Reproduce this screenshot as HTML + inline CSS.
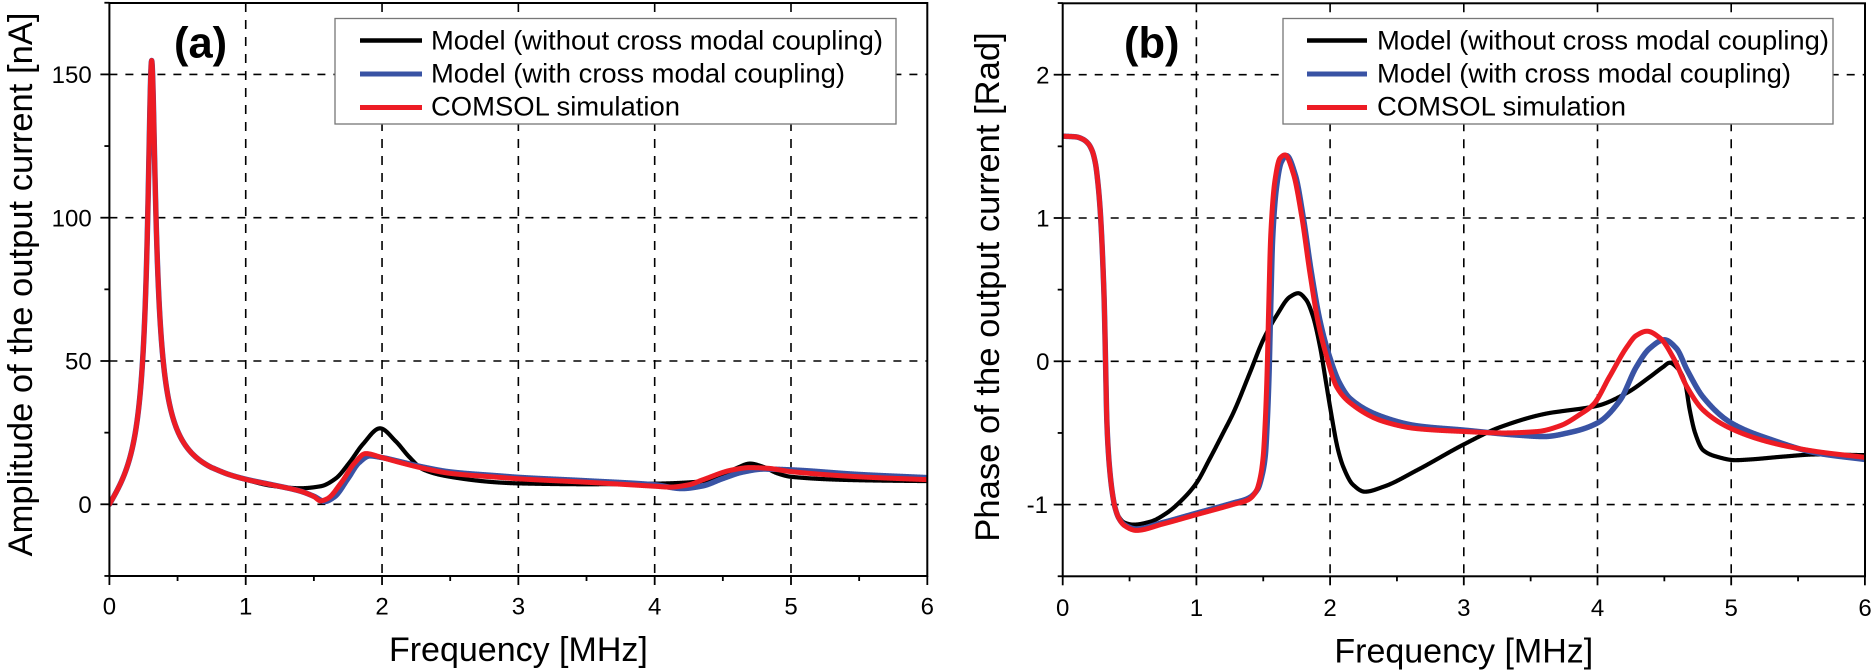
<!DOCTYPE html>
<html><head><meta charset="utf-8">
<style>
html,body{margin:0;padding:0;background:#fff;}
svg{display:block;}
text{font-family:"Liberation Sans",Arial,sans-serif;fill:#000;}
</style></head><body>
<svg id="s" width="1875" height="671" viewBox="0 0 1875 671" xmlns="http://www.w3.org/2000/svg">
<defs>
<clipPath id="ca"><rect x="109.4" y="3" width="817.9" height="573"/></clipPath>
<clipPath id="cb"><rect x="1062.7" y="3" width="802.3" height="573.3"/></clipPath>
</defs>
<rect width="1875" height="671" fill="#fff"/>
<g id="grid" stroke="#000" stroke-width="1.6" fill="none"></g>
<g id="ticks" stroke="#000" stroke-width="1.8" fill="none"></g>
<g id="curvesA" clip-path="url(#ca)" fill="none" stroke-linejoin="round" stroke-linecap="round"></g>
<g id="curvesB" clip-path="url(#cb)" fill="none" stroke-linejoin="round" stroke-linecap="round"></g>
<rect x="109.4" y="3" width="817.9" height="573" fill="none" stroke="#000" stroke-width="2"/>
<rect x="1062.7" y="3.3" width="802.3" height="573" fill="none" stroke="#000" stroke-width="2"/>

<!-- Legend a -->
<rect x="335" y="18.5" width="561" height="105.5" fill="#fff" stroke="#777" stroke-width="1.3"/>
<line x1="360" y1="40.5" x2="422" y2="40.5" stroke="#000" stroke-width="4.5"/>
<line x1="360" y1="74" x2="422" y2="74" stroke="#3953a4" stroke-width="5"/>
<line x1="360" y1="107.5" x2="422" y2="107.5" stroke="#ed1c24" stroke-width="5"/>
<text x="431" y="49.5" font-size="27" textLength="452" lengthAdjust="spacingAndGlyphs">Model (without cross modal coupling)</text>
<text x="431" y="82.5" font-size="27" textLength="414" lengthAdjust="spacingAndGlyphs">Model (with cross modal coupling)</text>
<text x="431" y="115.5" font-size="27" textLength="249" lengthAdjust="spacingAndGlyphs">COMSOL simulation</text>

<!-- Legend b -->
<rect x="1283" y="18.5" width="550" height="105.5" fill="#fff" stroke="#777" stroke-width="1.3"/>
<line x1="1307" y1="40.5" x2="1367" y2="40.5" stroke="#000" stroke-width="4.5"/>
<line x1="1307" y1="74" x2="1367" y2="74" stroke="#3953a4" stroke-width="5"/>
<line x1="1307" y1="107.5" x2="1367" y2="107.5" stroke="#ed1c24" stroke-width="5"/>
<text x="1377" y="49.5" font-size="27" textLength="452" lengthAdjust="spacingAndGlyphs">Model (without cross modal coupling)</text>
<text x="1377" y="82.5" font-size="27" textLength="414" lengthAdjust="spacingAndGlyphs">Model (with cross modal coupling)</text>
<text x="1377" y="115.5" font-size="27" textLength="249" lengthAdjust="spacingAndGlyphs">COMSOL simulation</text>

<!-- Panel labels -->
<text x="174" y="57.5" font-size="43.5" font-weight="bold">(a)</text>
<text x="1124" y="57.5" font-size="43.5" font-weight="bold">(b)</text>

<!-- Y tick labels a -->
<g font-size="24" text-anchor="end">
<text x="91.7" y="512.9">0</text>
<text x="91.7" y="369.6">50</text>
<text x="91.7" y="226.3">100</text>
<text x="91.7" y="83.0">150</text>
</g>
<!-- Y tick labels b -->
<g font-size="24" text-anchor="end">
<text x="1048" y="513.2">-1</text>
<text x="1049.5" y="369.9">0</text>
<text x="1049.5" y="226.6">1</text>
<text x="1049.5" y="83.3">2</text>
</g>
<!-- X tick labels a -->
<g font-size="24" text-anchor="middle">
<text x="109.4" y="614.5">0</text>
<text x="245.7" y="614.5">1</text>
<text x="382.0" y="614.5">2</text>
<text x="518.4" y="614.5">3</text>
<text x="654.7" y="614.5">4</text>
<text x="791.0" y="614.5">5</text>
<text x="927.3" y="614.5">6</text>
</g>
<!-- X tick labels b -->
<g font-size="24" text-anchor="middle">
<text x="1062.7" y="616">0</text>
<text x="1196.4" y="616">1</text>
<text x="1330.1" y="616">2</text>
<text x="1463.8" y="616">3</text>
<text x="1597.5" y="616">4</text>
<text x="1731.2" y="616">5</text>
<text x="1865" y="616">6</text>
</g>
<!-- Axis titles -->
<text x="518.4" y="661" font-size="34" text-anchor="middle">Frequency [MHz]</text>
<text x="1463.8" y="662.5" font-size="34" text-anchor="middle">Frequency [MHz]</text>
<text transform="translate(32,284.5) rotate(-90)" font-size="34.6" text-anchor="middle">Amplitude of the output current [nA]</text>
<text transform="translate(999,287) rotate(-90)" font-size="34.6" text-anchor="middle">Phase of the output current [Rad]</text>
</svg>
<script>
(function(){
var NS="http://www.w3.org/2000/svg";
function el(parent,tag,attrs){var e=document.createElementNS(NS,tag);for(var k in attrs)e.setAttribute(k,attrs[k]);parent.appendChild(e);return e;}
function pchip(pts){
  var xs=pts.map(function(p){return p[0];}),ys=pts.map(function(p){return p[1];});
  var n=xs.length,h=[],d=[],m=new Array(n),i;
  for(i=0;i<n-1;i++){h[i]=xs[i+1]-xs[i];d[i]=(ys[i+1]-ys[i])/h[i];}
  m[0]=d[0];m[n-1]=d[n-2];
  for(i=1;i<n-1;i++){
    if(d[i-1]*d[i]<=0)m[i]=0;
    else{var w1=2*h[i]+h[i-1],w2=h[i]+2*h[i-1];m[i]=(w1+w2)/(w1/d[i-1]+w2/d[i]);}
  }
  return function(x){
    var j=0;while(j<n-2&&x>xs[j+1])j++;
    var t=(x-xs[j])/h[j],t2=t*t,t3=t2*t;
    return (2*t3-3*t2+1)*ys[j]+(t3-2*t2+t)*h[j]*m[j]+(-2*t3+3*t2)*ys[j+1]+(t3-t2)*h[j]*m[j+1];
  };
}
function XA(f){return 109.4+f*136.32;} function YA(v){return 504.3-v*2.866;}
function XB(f){return 1062.7+f*133.7;} function YB(v){return 361.3-v*143.3;}

var grid=document.getElementById('grid'),ticks=document.getElementById('ticks');
var i,x,y;
for(i=1;i<=5;i++){x=XA(i);el(grid,'line',{x1:x,y1:3,x2:x,y2:576,'stroke-dasharray':'9 8'});}
[0,50,100,150].forEach(function(v){y=YA(v);el(grid,'line',{x1:109.4,y1:y,x2:927.3,y2:y,'stroke-dasharray':'8 8'});});
for(i=1;i<=5;i++){x=XB(i);el(grid,'line',{x1:x,y1:3.3,x2:x,y2:576.3,'stroke-dasharray':'9 8'});}
[-1,0,1,2].forEach(function(v){y=YB(v);el(grid,'line',{x1:1062.7,y1:y,x2:1865,y2:y,'stroke-dasharray':'8 8'});});
for(var v=-25;v<=175;v+=25){var maj=(v%50===0);y=YA(v);el(ticks,'line',{x1:109.4-(maj?9:5),y1:y,x2:109.4,y2:y});}
for(var f=0;f<=6.001;f+=0.5){var mj=Math.abs(f-Math.round(f))<1e-6;x=XA(f);el(ticks,'line',{x1:x,y1:576,x2:x,y2:576+(mj?9:5)});}
for(var k=-3;k<=5;k++){var vv=k*0.5;var mj2=(k%2===0);y=YB(vv);el(ticks,'line',{x1:1062.7-(mj2?9:5),y1:y,x2:1062.7,y2:y});}
for(var f2=0;f2<=6.001;f2+=0.5){var mj3=Math.abs(f2-Math.round(f2))<1e-6;x=XB(f2);el(ticks,'line',{x1:x,y1:576.3,x2:x,y2:576.3+(mj3?9:5)});}

function r1(f){return 8*f/Math.sqrt(Math.pow(0.0961-f*f,2)+Math.pow(f*0.31/6,2));}
var a75=r1(0.75),a87=r1(0.87);
var redA=pchip([[0.75,a75],[0.87,a87],[1.0,8.7],[1.2,6.7],[1.4,4.6],[1.5,2.7],[1.55,1.2],[1.6,2.0],[1.7,7.5],[1.8,14.5],[1.88,17.7],[2.0,16.3],[2.13,14.6],[2.3,12.6],[2.5,10.8],[2.86,9.4],[3.0,8.9],[3.5,7.7],[4.0,6.3],[4.11,6.0],[4.25,6.8],[4.35,8.5],[4.57,12.0],[4.7,12.8],[4.82,12.6],[5.0,11.4],[5.5,9.6],[6.0,8.6]]);
var blueA=pchip([[0.75,a75],[0.87,a87],[1.0,8.75],[1.2,6.75],[1.4,4.6],[1.5,2.8],[1.58,1.0],[1.65,2.6],[1.75,9],[1.83,14.5],[1.91,16.9],[2.0,16.3],[2.13,14.9],[2.3,13.0],[2.5,11.3],[2.86,9.9],[3.0,9.4],[3.5,8.2],[4.0,6.8],[4.2,5.5],[4.35,6.4],[4.5,9.0],[4.65,11.3],[4.8,12.3],[5.0,12.0],[5.5,10.4],[6.0,9.3]]);
var blackA=pchip([[0.75,a75],[0.87,a87],[1.0,8.6],[1.2,6.4],[1.4,5.6],[1.55,6.3],[1.66,9.0],[1.76,14.5],[1.86,21],[1.985,26.5],[2.1,22],[2.2,16.5],[2.3,12.2],[2.5,9.6],[2.86,7.6],[3.0,7.3],[3.5,7.0],[4.0,7.2],[4.3,7.8],[4.5,10.0],[4.6,12.6],[4.7,14.2],[4.8,13.0],[4.9,10.8],[5.0,9.6],[5.5,8.4],[6.0,8.1]]);
function ampF(sp){return function(f){return f<0.75?r1(f):sp(f);};}

var early=[[0,1.571],[0.1,1.566],[0.15,1.55],[0.19,1.52],[0.22,1.47],[0.245,1.38],[0.265,1.23],[0.28,1.06],[0.292,0.86],[0.302,0.64],[0.31,0.43],[0.32,0.02],[0.33,-0.41],[0.342,-0.64],[0.355,-0.79],[0.37,-0.91],[0.39,-1.015]];
var redB=pchip(early.concat([[0.42,-1.095],[0.46,-1.145],[0.55,-1.18],[0.75,-1.135],[1.0,-1.07],[1.27,-1.0],[1.39,-0.965],[1.45,-0.9],[1.48,-0.8],[1.50,-0.66],[1.515,-0.42],[1.528,-0.1],[1.54,0.35],[1.556,0.88],[1.588,1.265],[1.625,1.417],[1.663,1.44],[1.725,1.31],[1.788,1.01],[1.85,0.61],[1.912,0.265],[1.975,0.03],[2.05,-0.18],[2.15,-0.29],[2.4,-0.42],[2.65,-0.47],[3.0,-0.49],[3.3,-0.50],[3.55,-0.49],[3.72,-0.45],[3.87,-0.37],[3.97,-0.30],[4.09,-0.107],[4.22,0.10],[4.29,0.18],[4.37,0.21],[4.47,0.16],[4.57,0.02],[4.67,-0.18],[4.79,-0.34],[5.0,-0.47],[5.31,-0.57],[5.64,-0.63],[6.0,-0.67]]));
var blueB=pchip(early.concat([[0.42,-1.095],[0.46,-1.14],[0.55,-1.17],[0.75,-1.125],[1.0,-1.06],[1.27,-0.99],[1.39,-0.955],[1.46,-0.89],[1.49,-0.8],[1.515,-0.66],[1.53,-0.42],[1.543,-0.1],[1.555,0.35],[1.57,0.85],[1.60,1.22],[1.635,1.39],[1.675,1.435],[1.74,1.30],[1.80,1.0],[1.86,0.62],[1.925,0.28],[1.99,0.05],[2.07,-0.15],[2.15,-0.26],[2.4,-0.39],[2.65,-0.45],[3.0,-0.48],[3.4,-0.515],[3.6,-0.525],[3.8,-0.495],[4.0,-0.43],[4.17,-0.27],[4.29,-0.04],[4.39,0.09],[4.5,0.15],[4.59,0.09],[4.67,-0.06],[4.79,-0.25],[5.0,-0.43],[5.31,-0.55],[5.64,-0.64],[6.0,-0.685]]));
var blackB=pchip(early.concat([[0.42,-1.085],[0.46,-1.125],[0.53,-1.14],[0.653,-1.12],[0.776,-1.06],[0.9,-0.96],[1.0,-0.85],[1.1,-0.68],[1.2,-0.5],[1.276,-0.36],[1.40,-0.08],[1.50,0.15],[1.60,0.32],[1.70,0.45],[1.762,0.475],[1.82,0.43],[1.87,0.32],[1.925,0.1],[1.97,-0.15],[2.0,-0.32],[2.06,-0.62],[2.10,-0.74],[2.17,-0.86],[2.26,-0.91],[2.40,-0.875],[2.65,-0.76],[3.0,-0.58],[3.27,-0.46],[3.645,-0.36],[3.72,-0.35],[4.0,-0.31],[4.22,-0.22],[4.39,-0.11],[4.49,-0.04],[4.54,-0.01],[4.6,-0.05],[4.655,-0.15],[4.69,-0.34],[4.73,-0.50],[4.79,-0.62],[4.89,-0.665],[5.03,-0.69],[5.14,-0.685],[5.39,-0.665],[5.64,-0.65],[6.0,-0.655]]));

function path(fn,X,Y){
  var s="",n=3000;
  for(var j=0;j<=n;j++){var f=6*j/n;var px=X(f),py=Y(fn(f));s+=(j?"L":"M")+px.toFixed(2)+" "+py.toFixed(2);}
  return s;
}
var cA=document.getElementById('curvesA'),cB=document.getElementById('curvesB');
el(cA,'path',{d:path(ampF(blackA),XA,YA),stroke:'#000','stroke-width':4.2});
el(cA,'path',{d:path(ampF(blueA),XA,YA),stroke:'#3953a4','stroke-width':5.5});
el(cA,'path',{d:path(ampF(redA),XA,YA),stroke:'#ed1c24','stroke-width':5});
el(cB,'path',{d:path(blackB,XB,YB),stroke:'#000','stroke-width':4.2});
el(cB,'path',{d:path(blueB,XB,YB),stroke:'#3953a4','stroke-width':5.5});
el(cB,'path',{d:path(redB,XB,YB),stroke:'#ed1c24','stroke-width':5});
})();
</script>
</body></html>
